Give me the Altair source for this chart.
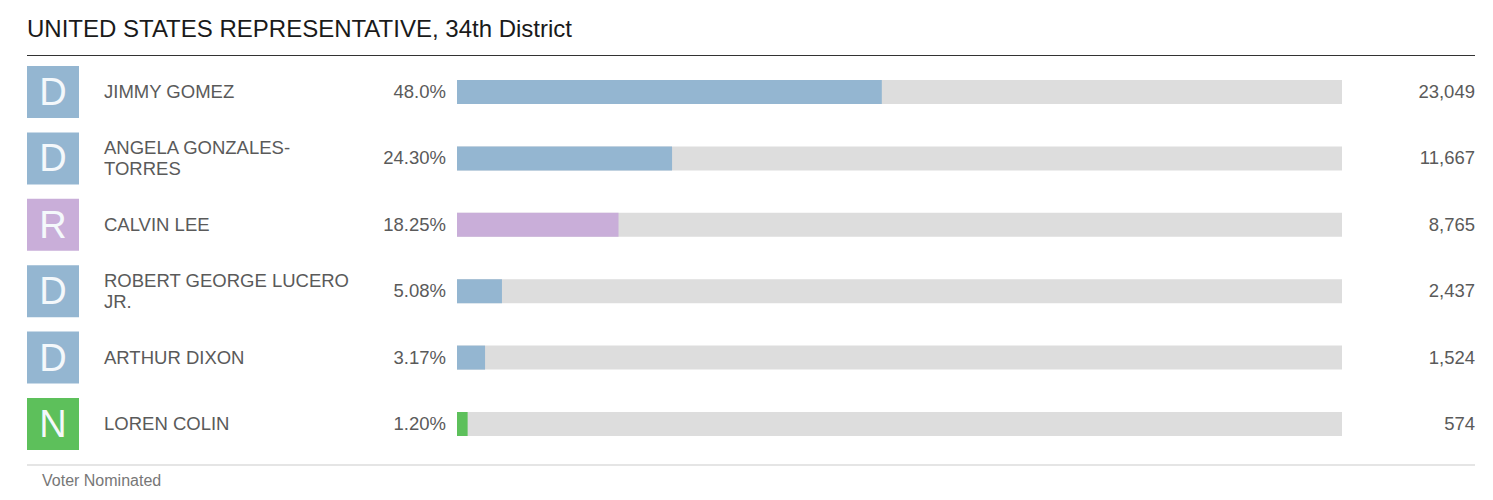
import altair as alt
import pandas as pd

# Race results
candidates = [
    "JIMMY GOMEZ",
    "ANGELA GONZALES-\nTORRES",
    "CALVIN LEE",
    "ROBERT GEORGE LUCERO\nJR.",
    "ARTHUR DIXON",
    "LOREN COLIN",
]
parties = ["D", "D", "R", "D", "D", "N"]
percents = [48.0, 24.30, 18.25, 5.08, 3.17, 1.20]
percent_labels = ["48.0%", "24.30%", "18.25%", "5.08%", "3.17%", "1.20%"]
votes = [23049, 11667, 8765, 2437, 1524, 574]

title_text = "UNITED STATES REPRESENTATIVE, 34th District"
footnote = "Voter Nominated"

party_domain = ["D", "R", "N"]
party_colors = ["#94b6d1", "#c9aed9", "#5dc05b"]

rows = list(range(len(candidates)))
df = pd.DataFrame({
    "row": rows,
    "name": candidates,
    "party": parties,
    "pct": percents,
    "pct_label": percent_labels,
    "votes": votes,
    "full": [100.0] * len(candidates),
})
df["votes_label"] = [f"{v:,}" for v in votes]

W, H = 1493, 500
FONT = "Liberation Sans"
LINE_H = 21

y_enc = alt.Y(
    "row:O",
    scale=alt.Scale(type="point", domain=rows, range=[92, 424], padding=0),
    axis=None,
)
x_scale = alt.Scale(domain=[0, 100], range=[457, 1342])
color_scale = alt.Scale(domain=party_domain, range=party_colors)

base = alt.Chart(df)

track = base.mark_bar(size=24, color="#dddddd").encode(
    x=alt.X("full:Q", scale=x_scale, axis=None),
    y=y_enc,
)

bars = base.mark_bar(size=24).encode(
    x=alt.X("pct:Q", scale=x_scale, axis=None),
    y=y_enc,
    color=alt.Color("party:N", scale=color_scale, legend=None),
)

badges = base.mark_square(size=52 * 52, opacity=1, filled=True).encode(
    x=alt.value(53),
    y=y_enc,
    color=alt.Color("party:N", scale=color_scale, legend=None),
)

badge_letters = base.mark_text(
    font=FONT, fontSize=38, color="#f4f8fb", align="center", baseline="middle", dy=2
).encode(x=alt.value(53), y=y_enc, text="party:N")

name_style = dict(
    font=FONT, fontSize=18.5, color="#5a5a5a", align="left", baseline="middle",
    lineBreak="\n", lineHeight=LINE_H,
)

# single-line names sit on the row centre
names_single = base.transform_filter(
    "indexof(datum.name, '\\n') < 0"
).mark_text(**name_style).encode(x=alt.value(104), y=y_enc, text="name:N")

# wrapped names: shift up half a line so the two lines straddle the row centre
names_double = base.transform_filter(
    "indexof(datum.name, '\\n') >= 0"
).mark_text(dy=-LINE_H / 2, **name_style).encode(x=alt.value(104), y=y_enc, text="name:N")

pct_text = base.mark_text(
    font=FONT, fontSize=18.5, color="#5a5a5a", align="right", baseline="middle"
).encode(x=alt.value(446), y=y_enc, text="pct_label:N")

vote_text = base.mark_text(
    font=FONT, fontSize=18.5, color="#5a5a5a", align="right", baseline="middle"
).encode(x=alt.value(1475), y=y_enc, text="votes_label:N")

deco = pd.DataFrame({"title": [title_text], "note": [footnote]})
dbase = alt.Chart(deco)

title = dbase.mark_text(
    font=FONT, fontSize=24, color="#1a1a1a", align="left", baseline="middle"
).encode(x=alt.value(27), y=alt.value(30), text="title:N")

top_rule = dbase.mark_rule(color="#333333", strokeWidth=1).encode(
    x=alt.value(27), x2=alt.value(1475), y=alt.value(55.5)
)

bottom_rule = dbase.mark_rule(color="#dddddd", strokeWidth=1.5).encode(
    x=alt.value(27), x2=alt.value(1475), y=alt.value(465)
)

note = dbase.mark_text(
    font=FONT, fontSize=16, color="#777777", align="left", baseline="middle"
).encode(x=alt.value(42), y=alt.value(481), text="note:N")

chart = alt.layer(
    track, bars, badges, badge_letters, names_single, names_double, pct_text, vote_text,
    title, top_rule, bottom_rule, note,
).properties(
    width=W, height=H, padding=0, autosize=alt.AutoSizeParams(type="none"),
    background="white",
).configure_view(stroke=None)

chart.save("out.html", embed_options={"renderer": "svg", "actions": False})
